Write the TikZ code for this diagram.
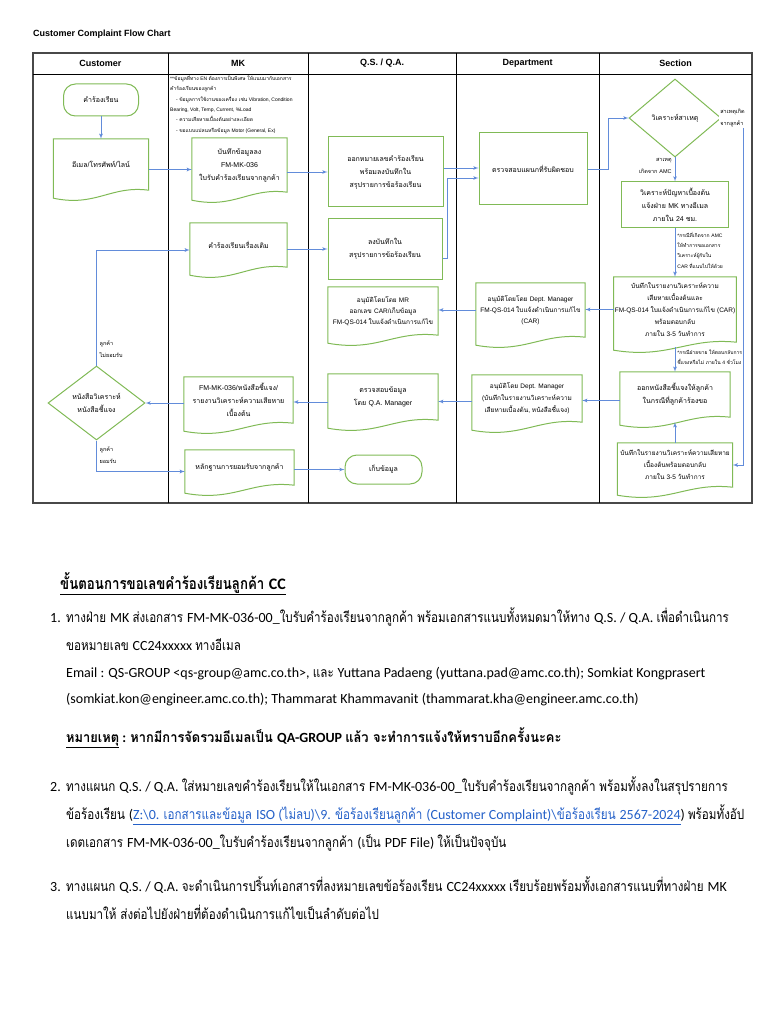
\documentclass[tikz,border=0pt]{standalone}
\usepackage{fontspec}
\setmainfont{Liberation Sans}
\newfontfamily\thaifont[Script=Thai]{Loma}
\newfontfamily\thaibody[Script=Thai, FakeStretch=0.83]{Loma}
\newfontfamily\thaibold[Script=Thai, FakeStretch=0.92]{Loma}
\newfontfamily\carlito{Carlito}
\usepackage{tikz}
\usetikzlibrary{positioning}
\usetikzlibrary{calc}
\usetikzlibrary{arrows}
\usetikzlibrary{shapes}

% Thai letters switch font by themselves
\XeTeXinterchartokenstate=1
\newXeTeXintercharclass\thaiclass
\newcount\thaicnt
\thaicnt="0E00
\loop
  \XeTeXcharclass\thaicnt=\thaiclass
  \advance\thaicnt by 1
\ifnum\thaicnt<"0E80 \repeat
\def\latinfont{\rmfamily}
\def\thaiswitch{\thaifont}
\XeTeXinterchartoks 0 \thaiclass = {\thaiswitch}
\XeTeXinterchartoks 4095 \thaiclass = {\thaiswitch}
\XeTeXinterchartoks \thaiclass 0 = {\latinfont}
\XeTeXinterchartoks 4095 0 = {\latinfont}

\definecolor{boxgreen}{RGB}{128,186,86}
\definecolor{linkblue}{RGB}{98,140,218}
\definecolor{framegray}{RGB}{72,72,72}
\definecolor{hyper}{RGB}{36,96,200}

\newcommand\boxfont{\fontsize{7}{13}\selectfont}
\newcommand\bodyfont{\def\latinfont{\carlito}\def\thaiswitch{\thaibody}\carlito\fontsize{14}{17}\selectfont}

\begin{document}
\begin{tikzpicture}[x=1pt, y=-1pt]
% -------------------------------------------------
\tikzset{
  base/.style={align=center, inner sep=1pt, font=\boxfont},
  rect/.style={base, rectangle, draw=boxgreen, line width=1pt},
  term/.style={rect, rounded corners=12pt},
  decide/.style={base, diamond, draw=boxgreen, line width=1pt, inner sep=0pt},
  doc/.style={base, rectangle},
  docline/.style={draw=boxgreen, line width=1pt},
  head/.style={font=\bfseries\fontsize{9}{11}\selectfont},
  note/.style={align=left, inner sep=0pt, font=\fontsize{5}{10.4}\selectfont},
  lbl/.style={align=left, inner sep=0pt, font=\fontsize{5.5}{12}\selectfont},
  line/.style={draw=linkblue, line width=0.8pt, -latex'},
  bodyline/.style={anchor=base west, inner sep=0pt, font=\bodyfont},
}
\useasboundingbox (0,0) rectangle (768,1024);

    \node [head, anchor=west, inner sep=0pt] (title) at (33,34) {Customer Complaint Flow Chart};

    % lanes
    \draw [framegray, line width=1.3pt] (33,53) rectangle (752,503);
    \draw [line width=0.8pt] (33,74) -- (752,74);
    \foreach \x in {168,308,456,599}
      \draw [line width=0.8pt] (\x,53) -- (\x,503);

    \node [head] (hcust) at (100.5,63.5) {Customer};
    \node [head] (hmk)   at (238,63.5) {MK};
    \node [head] (hqs)   at (382,63.5) {Q.S. / Q.A.};
    \node [head] (hdept) at (527.5,63.5) {Department};
    \node [head] (hsect) at (675.5,63.5) {Section};

    % Customer
    \node [term, minimum width=75pt, minimum height=32pt] (cstart) at (101,100) {คำร้องเรียน};
    \node [doc, minimum width=95pt, minimum height=51pt] (email) at (101,164.5) {อีเมล/โทรศัพท์/ไลน์};
    \node [decide, minimum width=97pt, minimum height=74pt] (cdec) at (96.5,403) {หนังสือวิเคราะห์\\หนังสือชี้แจง};
    \node [lbl, anchor=south west] (lrej) at ([xshift=3pt, yshift=8pt]cdec.north) {ลูกค้า\\ไม่ยอมรับ};
    \node [lbl, anchor=north west] (lacc) at ([xshift=3pt, yshift=-6pt]cdec.south) {ลูกค้า\\ยอมรับ};

    % MK
    \node [note, anchor=north west] (mknote) at (170,75) {**ข้อมูลที่ทาง EN ต้องการเป็นพิเศษ ให้แนบมากับเอกสาร\\
      คำร้องเรียนของลูกค้า\\
      \hspace*{6pt}- ข้อมูลการใช้งานของเครื่อง เช่น Vibration, Condition\\
      Bearing, Volt, Temp, Current, \%Load\\
      \hspace*{6pt}- ความเสียหายเบื้องต้นอย่างละเอียด\\
      \hspace*{6pt}- ขอแบบแปลนหรือข้อมูล Motor (General, Ex)};
    \node [doc, minimum width=95pt, minimum height=54pt] (mkrec) at (239.5,165) {บันทึกข้อมูลลง\\FM-MK-036\\ใบรับคำร้องเรียนจากลูกค้า};
    \node [doc, minimum width=97pt, minimum height=44pt] (mkold) at (238.5,245) {คำร้องเรียนเรื่องเดิม};
    \node [doc, minimum width=109pt, minimum height=46pt] (mkrep) at (238.5,400) {FM-MK-036/หนังสือชี้แจง/\\รายงานวิเคราะห์ความเสียหาย\\เบื้องต้น};
    \node [doc, minimum width=109pt, minimum height=35pt] (mkacc) at (239.5,467.5) {หลักฐานการยอมรับจากลูกค้า};

    % Q.S. / Q.A.
    \node [rect, minimum width=115pt, minimum height=70pt] (qsnum) at (385.5,172) {ออกหมายเลขคำร้องเรียน\\พร้อมลงบันทึกใน\\สรุปรายการข้อร้องเรียน};
    \node [rect, minimum width=114pt, minimum height=60pt] (qslog) at (385,249) {ลงบันทึกใน\\สรุปรายการข้อร้องเรียน};
    \node [doc, minimum width=110pt, minimum height=48pt, font=\fontsize{6.5}{11}\selectfont] (qsmr) at (383,311) {อนุมัติโดยโดย MR\\ออกเลข CAR/เก็บข้อมูล\\FM-QS-014 ใบแจ้งดำเนินการแก้ไข};
    \node [doc, minimum width=110pt, minimum height=46pt] (qsqa) at (383,397) {ตรวจสอบข้อมูล\\โดย Q.A. Manager};
    \node [term, minimum width=77pt, minimum height=29pt] (qsstore) at (383.5,469.5) {เก็บข้อมูล};

    % Department
    \node [rect, minimum width=108pt, minimum height=72pt] (dchk) at (533,169) {ตรวจสอบแผนกที่รับผิดชอบ};
    \node [doc, minimum width=109pt, minimum height=54pt, font=\fontsize{6.5}{11}\selectfont] (dcar) at (530.5,310) {อนุมัติโดยโดย Dept. Manager\\FM-QS-014 ใบแจ้งดำเนินการแก้ไข\\(CAR)};
    \node [doc, minimum width=110pt, minimum height=47pt, font=\fontsize{6.5}{12}\selectfont] (drep) at (527,398.5) {อนุมัติโดย Dept. Manager\\(บันทึกในรายงานวิเคราะห์ความ\\เสียหายเบื้องต้น, หนังสือชี้แจง)};

    % Section
    \node [decide, minimum width=92pt, minimum height=78pt] (scause) at (675,118) {วิเคราะห์สาเหตุ};
    \node [rect, minimum width=107pt, minimum height=46pt] (sana) at (675,205) {วิเคราะห์ปัญหาเบื้องต้น\\แจ้งฝ่าย MK ทางอีเมล\\ภายใน 24 ชม.};
    \node [doc, minimum width=113pt, minimum height=65pt, font=\fontsize{6.5}{12}\selectfont] (scar) at (675,309.5) {บันทึกในรายงานวิเคราะห์ความ\\เสียหายเบื้องต้นและ\\FM-QS-014 ใบแจ้งดำเนินการแก้ไข (CAR)\\พร้อมตอบกลับ\\ภายใน 3-5 วันทำการ};
    \node [doc, minimum width=110pt, minimum height=45pt] (sletter) at (675,394.5) {ออกหนังสือชี้แจงให้ลูกค้า\\ในกรณีที่ลูกค้าร้องขอ};
    \node [doc, minimum width=115pt, minimum height=44pt, font=\fontsize{6.5}{12}\selectfont] (slast) at (675,465) {บันทึกในรายงานวิเคราะห์ความเสียหาย\\เบื้องต้นพร้อมตอบกลับ\\ภายใน 3-5 วันทำการ};

    % document outlines with wavy foot
    \foreach \d in {email,mkrec,mkold,mkrep,mkacc,qsmr,qsqa,dcar,drep,scar,sletter,slast}
      \draw [docline] ([yshift=-8pt]\d.south west) -- (\d.north west) -- (\d.north east) -- (\d.south east)
        .. controls ($(\d.south west)!0.6!(\d.south east)+(0,5pt)$) and ($(\d.south west)!0.45!(\d.south east)+(0,-17pt)$) .. ([yshift=-8pt]\d.south west) -- cycle;

    % connectors
    \path [line] (cstart) -- (email);
    \path [line] ([yshift=-5pt]email.east) -- ([yshift=-5pt]email.east -| mkrec.west);
    \path [line] (mkrec.east |- qsnum.west) -- (qsnum.west);
    \path [line] ([yshift=4pt]qsnum.east) -- ([yshift=4pt]qsnum.east -| dchk.west);
    \path [line] ([yshift=-9pt]qslog.east) -- ++(5,0) |- ([yshift=-9pt]dchk.west);
    \path [line] (mkold.east |- qslog.west) -- (qslog.west);
    \path [line] (dchk.east) -- ++(21,0) |- (scause.west);
    \path [line] (scause.south) -- node [lbl, align=right, anchor=east, pos=0.34, xshift=-3pt] (lamc) {สาเหตุ\\เกิดจาก AMC} (sana.north);
    \path [line] (scause.east) -- node [lbl, fill=white, inner sep=1pt] (lcust) {สาเหตุเกิด\\จากลูกค้า} ++(22,0) |- (slast.east);
    \path [line] (sana.south) -- node [note, anchor=west, xshift=2pt, pos=0.45] (namc) {*กรณีที่เกิดจาก AMC\\ให้ทำการขอเอกสาร\\วิเคราะห์ผู้รับใน\\CAR ที่แนบไปให้ด้วย} (scar.north);
    \path [line] (scar.west) -- (scar.west -| dcar.east);
    \path [line] ([yshift=-5pt]scar.south) -- node [note, anchor=west, xshift=2pt, pos=0.4] (nsale) {*กรณีฝ่ายขาย ให้ตอบกลับการ\\ชี้แจงหรือไม่ ภายใน 4 ชั่วโมง} (sletter.north);
    \path [line] ([yshift=-6pt]sletter.west) -- ([yshift=-6pt]sletter.west -| drep.east);
    \path [line] (slast.north) -- ([yshift=-5pt]sletter.south);
    \path [line] (dcar.west) -- (dcar.west -| qsmr.east);
    \path [line] ([yshift=-3pt]drep.west) -- ([yshift=-3pt]drep.west -| qsqa.east);
    \path [line] ([yshift=-5pt]qsqa.west) -- ([yshift=-5pt]qsqa.west -| mkrep.east);
    \path [line] (mkrep.west |- cdec.east) -- (cdec.east);
    \path [line] (cdec.north) |- ([yshift=-5pt]mkold.west);
    \path [line] (cdec.south) |- ([yshift=-4pt]mkacc.west);
    \path [line] (mkacc.east |- qsstore.west) -- (qsstore.west);

    % steps below the chart
    \node [bodyline, font=\bodyfont\fontsize{16}{20}\selectfont\bfseries] (steps) at (60,589) {\underline{ขั้นตอนการขอเลขคำร้องเรียนลูกค้า CC}};
    \node [bodyline] (n1) at (50,622) {1.};
    \node [bodyline] (s1a) at (66,622) {ทางฝ่าย MK ส่งเอกสาร FM-MK-036-00\_ใบรับคำร้องเรียนจากลูกค้า พร้อมเอกสารแนบทั้งหมดมาให้ทาง Q.S. / Q.A. เพื่อดำเนินการ};
    \node [bodyline] (s1b) at (66,650) {ขอหมายเลข CC24xxxxx ทางอีเมล};
    \node [bodyline] (s1c) at (66,677) {Email : QS-GROUP <qs-group@amc.co.th>, และ Yuttana Padaeng (yuttana.pad@amc.co.th); Somkiat Kongprasert};
    \node [bodyline] (s1d) at (66,703) {(somkiat.kon@engineer.amc.co.th); Thammarat Khammavanit (thammarat.kha@engineer.amc.co.th)};
    \node [bodyline, font=\bodyfont\def\thaiswitch{\thaibold}\bfseries] (remark) at (66,742) {\underline{หมายเหตุ} : หากมีการจัดรวมอีเมลเป็น QA-GROUP แล้ว จะทำการแจ้งให้ทราบอีกครั้งนะคะ};
    \node [bodyline] (n2) at (50,791) {2.};
    \node [bodyline] (s2a) at (66,791) {ทางแผนก Q.S. / Q.A. ใส่หมายเลขคำร้องเรียนให้ในเอกสาร FM-MK-036-00\_ใบรับคำร้องเรียนจากลูกค้า พร้อมทั้งลงในสรุปรายการ};
    \node [bodyline] (s2b) at (66,819) {ข้อร้องเรียน (\textcolor{hyper}{\underline{Z:\textbackslash 0. เอกสารและข้อมูล ISO (ไม่ลบ)\textbackslash 9. ข้อร้องเรียนลูกค้า (Customer Complaint)\textbackslash ข้อร้องเรียน 2567-2024}}) พร้อมทั้งอัป};
    \node [bodyline] (s2c) at (66,847) {เดตเอกสาร FM-MK-036-00\_ใบรับคำร้องเรียนจากลูกค้า (เป็น PDF File) ให้เป็นปัจจุบัน};
    \node [bodyline] (n3) at (50,891) {3.};
    \node [bodyline] (s3a) at (66,891) {ทางแผนก Q.S. / Q.A. จะดำเนินการปริ้นท์เอกสารที่ลงหมายเลขข้อร้องเรียน CC24xxxxx เรียบร้อยพร้อมทั้งเอกสารแนบที่ทางฝ่าย MK};
    \node [bodyline] (s3b) at (66,919) {แนบมาให้ ส่งต่อไปยังฝ่ายที่ต้องดำเนินการแก้ไขเป็นลำดับต่อไป};

\end{tikzpicture}
\end{document}
